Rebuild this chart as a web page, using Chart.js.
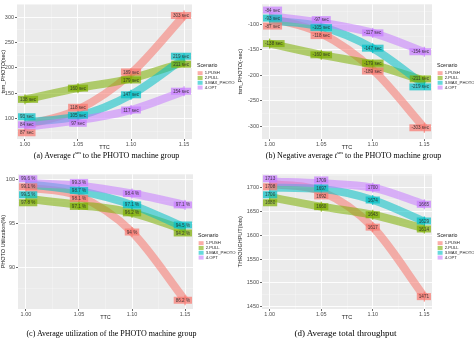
<!DOCTYPE html>
<html>
<head>
<meta charset="utf-8">
<script src="https://cdn.jsdelivr.net/npm/chart.js@4/dist/chart.umd.min.js"></script>
<style>
body { margin: 0; background: #fff; width: 474px; height: 342px; position: relative; overflow: hidden; }
.panel { position: absolute; width: 237px; height: 151px; }
.cap { position: absolute; width: 237px; text-align: center; font-family: "Liberation Serif", serif; font-size: 8px; color: #000; white-space: nowrap; will-change: transform; }
.cap sup { font-size: 5px; }
</style>
</head>
<body>
<div class="panel" style="left:0;top:0"><canvas id="chartA"></canvas></div>
<div class="panel" style="left:237px;top:0"><canvas id="chartB"></canvas></div>
<div class="panel" style="left:0;top:170px"><canvas id="chartC"></canvas></div>
<div class="panel" style="left:237px;top:170px"><canvas id="chartD"></canvas></div>
<div class="cap" style="left:-12px;top:150px">(a) Average <i>t</i><sup>sm</sup> to the PHOTO machine group</div>
<div class="cap" style="left:235px;top:150px">(b) Negative average <i>t</i><sup>sm</sup> to the PHOTO machine group</div>
<div class="cap" style="left:-7px;top:329px">(c) Average utilization of the PHOTO machine group</div>
<div class="cap" style="left:227px;top:328px;font-size:9px">(d) Average total throughput</div>
<script>
var ttc = [1.00, 1.05, 1.10, 1.15];
var ttcTicks = [1.00, 1.05, 1.10, 1.15];
var scenarios = ['1.PUSH', '2.PULL', '3.MAX_PHOTO', '4.OPT'];
var colors = ['248,118,109', '124,174,0', '0,191,196', '199,124,255'];

// (a) average tsm (sec)
var tsmPush = [87, 118, 189, 303];
var tsmPull = [138, 160, 179, 211];
var tsmMax = [93, 105, 147, 219];
var tsmOpt = [84, 97, 117, 154];
var tsmTicks = [100, 150, 200, 250, 300];

// (b) negative average tsm
var negPush = [-87, -118, -189, -303];
var negPull = [-138, -160, -179, -211];
var negMax = [-93, -105, -147, -219];
var negOpt = [-84, -97, -117, -154];
var negTicks = [-300, -250, -200, -150, -100];

// (c) utilization (%)
var utilPush = [99.1, 98.1, 94.0, 86.2];
var utilPull = [97.8, 97.1, 96.2, 94.2];
var utilMax = [99.5, 98.7, 97.1, 94.5];
var utilOpt = [99.6, 99.3, 98.4, 97.1];
var utilTicks = [90, 95, 100];

// (d) throughput (lots)
var thrPush = [1708, 1692, 1617, 1471];
var thrPull = [1680, 1660, 1643, 1614];
var thrMax = [1700, 1697, 1674, 1629];
var thrOpt = [1713, 1709, 1700, 1665];
var thrTicks = [1450, 1500, 1550, 1600, 1650, 1700];

var FONT = '"Liberation Sans", Arial, sans-serif';

function isMajor(v, major) {
	for (var i = 0; i < major.length; i++) {
		if (Math.abs(v - major[i]) < 1e-6 * Math.max(1, Math.abs(v))) return true;
	}
	return false;
}

// majors plus the half-way minors, kept inside the range
function gridTicks(major, min, max) {
	var step = major[1] - major[0], out = [];
	major.forEach(function (m, i) {
		if (i == 0 && m - step / 2 >= min) out.push({value: m - step / 2});
		out.push({value: m});
		if (m + step / 2 <= max) out.push({value: m + step / 2});
	});
	return out;
}

function axis(major, min, max, dec, title, fitSize, isX) {
	return {
		type: 'linear',
		min: min,
		max: max,
		afterBuildTicks: function (s) { s.ticks = gridTicks(major, min, max); },
		afterFit: function (s) { if (isX) s.height = fitSize; else s.width = fitSize; },
		border: {display: false},
		grid: {
			color: function (c) { return isMajor(c.tick.value, major) ? '#ffffff' : 'rgba(255,255,255,0.55)'; },
			lineWidth: function (c) { return isMajor(c.tick.value, major) ? 0.9 : 0.5; },
			tickColor: function (c) { return isMajor(c.tick.value, major) ? '#555' : 'rgba(0,0,0,0)'; },
			tickLength: 2
		},
		ticks: {
			autoSkip: false,
			maxRotation: 0,
			padding: isX ? 0 : 1,
			color: '#4d4d4d',
			font: {size: 5.5, family: FONT},
			callback: function (v) { return isMajor(v, major) ? v.toFixed(dec) : ''; }
		},
		title: {display: true, text: title, color: '#222', padding: 0, font: {size: 5.5, family: FONT}}
	};
}

var panelBg = {
	id: 'panelBg',
	beforeDraw: function (chart) {
		var a = chart.chartArea, c = chart.ctx;
		c.save();
		c.fillStyle = '#ebebeb';
		c.fillRect(a.left, a.top, a.right - a.left, a.bottom - a.top);
		c.restore();
	}
};

// fixed legend width and a small gap from the panel, like ggplot's guide box
var legendFit = {
	id: 'legendFit',
	afterInit: function (chart, args, opts) {
		var lg = chart.legend;
		if (!lg) return;
		var fit = lg.fit;
		lg.fit = function () {
			fit.call(this);
			this.width = opts.width;
		};
	},
	afterLayout: function (chart, args, opts) {
		if (chart.legend) chart.legend.left += opts.gap;
	}
};

// error ticks + repelled value labels
var valueLabels = {
	id: 'valueLabels',
	afterDatasetsDraw: function (chart) {
		var c = chart.ctx, area = chart.chartArea, h = 7;
		c.save();
		c.font = '4.6px ' + FONT;
		c.textAlign = 'center';
		c.textBaseline = 'middle';
		ttc.forEach(function (t, j) {
			var items = [];
			chart.data.datasets.forEach(function (ds, i) {
				var el = chart.getDatasetMeta(i).data[j];
				c.strokeStyle = 'rgba(' + colors[i] + ',0.95)';
				c.lineWidth = 1;
				c.beginPath();
				c.moveTo(el.x, el.y - 5);
				c.lineTo(el.x, el.y + 5);
				c.stroke();
				var w = c.measureText(ds.valueText[j]).width + 4;
				var x = Math.min(Math.max(el.x, area.left + w / 2 + 1), area.right - w / 2 - 1);
				items.push({x: x, y: el.y, w: w, text: ds.valueText[j], i: i});
			});
			items.sort(function (a, b) { return a.y - b.y; });
			for (var k = 0; k < 30; k++) {
				for (var m = 1; m < items.length; m++) {
					for (var n = 0; n < m; n++) {
						var a = items[n], b = items[m];
						var d = Math.abs(b.y - a.y);
						if (d < h + 1 && Math.abs(a.x - b.x) < (a.w + b.w) / 2) {
							var push = (h + 1 - d) / 2;
							if (a.y <= b.y) { a.y -= push; b.y += push; } else { a.y += push; b.y -= push; }
						}
					}
				}
				items.forEach(function (it) {
					it.y = Math.min(Math.max(it.y, area.top + h / 2 + 1), area.bottom - h / 2 - 1);
				});
			}
			items.forEach(function (it) {
				c.fillStyle = 'rgba(' + colors[it.i] + ',0.7)';
				c.fillRect(it.x - it.w / 2, it.y - h / 2, it.w, h);
				c.fillStyle = 'rgba(40,40,40,0.85)';
				c.fillText(it.text, it.x, it.y + 0.3);
			});
		});
		c.restore();
	}
};

function drawPanel(id, series, fmt, yMin, yMax, yTicks, yDec, yTitle, yWidth, legW) {
	var datasets = series.map(function (vals, i) {
		return {
			label: scenarios[i],
			data: vals.map(function (v, j) { return {x: ttc[j], y: v}; }),
			valueText: vals.map(fmt),
			borderColor: 'rgba(' + colors[i] + ',0.55)',
			borderWidth: 8,
			pointRadius: 0,
			cubicInterpolationMode: 'monotone',
			order: series.length - i
		};
	});
	new Chart(document.getElementById(id), {
		type: 'line',
		data: {datasets: datasets},
		options: {
			responsive: true,
			maintainAspectRatio: false,
			animation: false,
			layout: {padding: {top: 2, right: 0, bottom: 0, left: 0}},
			scales: {
				x: axis(ttcTicks, 0.9925, 1.1575, 2, 'TTC', 12, true),
				y: axis(yTicks, yMin, yMax, yDec, yTitle, yWidth, false)
			},
			plugins: {
				tooltip: {enabled: false},
				legendFit: {width: legW, gap: 5},
				legend: {
					position: 'right',
					title: {display: true, text: 'Scenario', color: '#222', position: 'start', padding: {top: 0, bottom: 1.5}, font: {size: 5.2, family: FONT}},
					labels: {
						boxWidth: 5,
						boxHeight: 4,
						padding: 0.6,
						color: '#222',
						font: {size: 4.2, family: FONT},
						generateLabels: function () {
							return scenarios.map(function (s, i) {
								return {text: s, fillStyle: 'rgba(' + colors[i] + ',0.6)', strokeStyle: 'rgba(0,0,0,0)', lineWidth: 0, datasetIndex: i, hidden: false};
							});
						}
					}
				}
			}
		},
		plugins: [panelBg, legendFit, valueLabels]
	});
}

drawPanel('chartA', [tsmPush, tsmPull, tsmMax, tsmOpt], function (v) { return v + ' sec'; },
	60, 325, tsmTicks, 0, 'tsm_PHOTO(sec)', 17, 45);
drawPanel('chartB', [negPush, negPull, negMax, negOpt], function (v) { return v + ' sec'; },
	-325, -61, negTicks, 0, 'tsm_PHOTO(-sec)', 25, 42);
drawPanel('chartC', [utilPush, utilPull, utilMax, utilOpt], function (v) { return v + ' %'; },
	85.2, 100.6, utilTicks, 0, 'PHOTO Utilization(%)', 18, 44);
drawPanel('chartD', [thrPush, thrPull, thrMax, thrOpt], function (v) { return String(v); },
	1445, 1728, thrTicks, 0, 'THROUGHPUT(lots)', 25, 42);
</script>
</body>
</html>
